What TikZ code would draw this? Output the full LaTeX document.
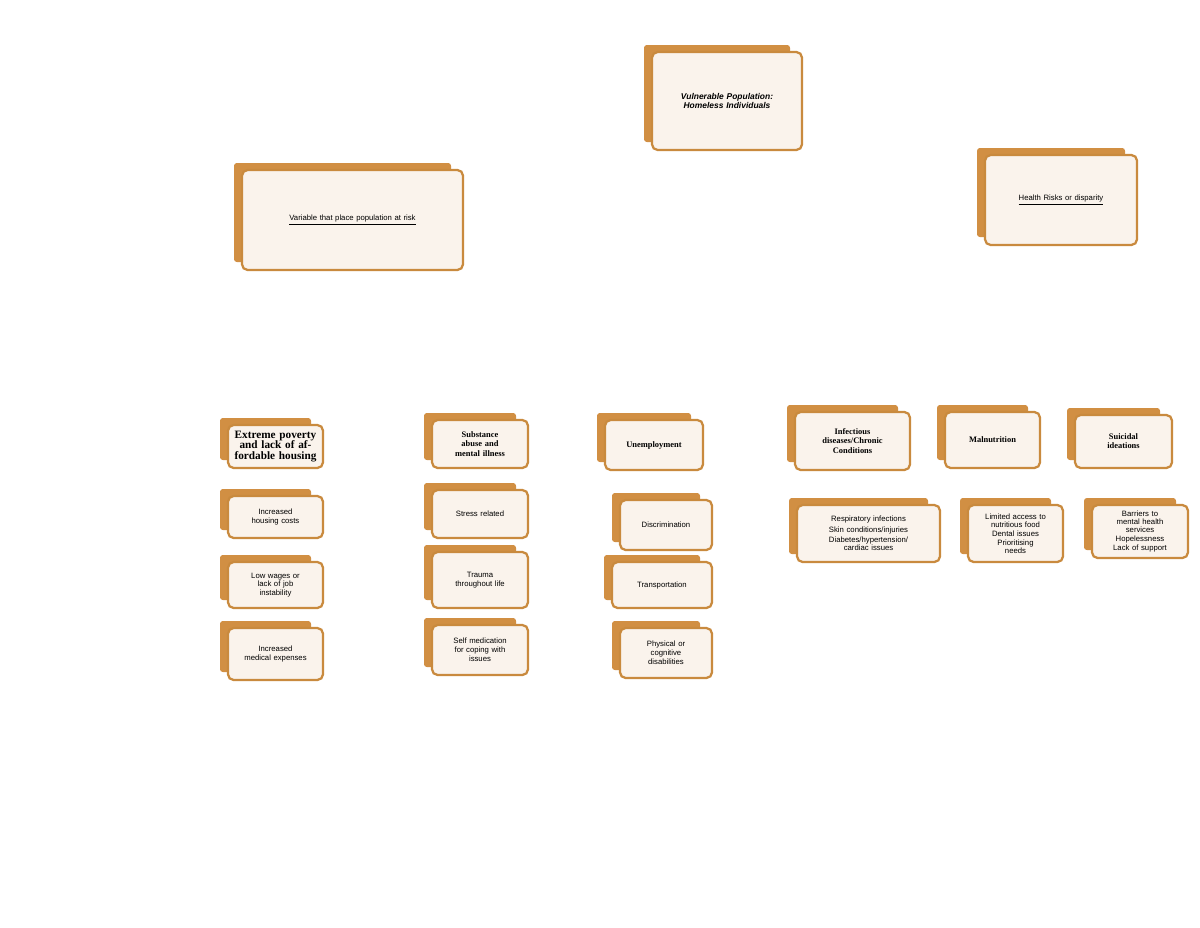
\documentclass[tikz,border=0pt]{standalone}
\usepackage{fontspec}
\setmainfont{Liberation Sans}
\newfontfamily\serifb{Liberation Serif}
\usetikzlibrary{fit,backgrounds}
\definecolor{org}{HTML}{C98A3E}
\definecolor{shd}{HTML}{D18F43}
\definecolor{crm}{HTML}{FAF3EC}
\tikzset{x=0.025cm,y=-0.025cm,
 front/.style={draw=org,line width=1.6pt,rounded corners=4pt,fill=crm,inner sep=0pt},
 conn/.style={draw=org,line width=1.6pt},
 txt/.style={align=center,font=\fontsize{5.5}{6.3}\selectfont,text width=#1},
 txt/.default=2.2cm}
\newcommand{\mybox}[6]{%
 \fill[shd,rounded corners=2pt] (#2-8,#3-7) rectangle (#4-12,#5-8);
 \node[front,fit={(#2,#3)(#4,#5)}] (#1) {};
 \node[txt=#6] at (#1.center) {\vphantom{}};}
\begin{document}
\begin{tikzpicture}
\fill[white] (0,0) rectangle (1200,927);
\mybox{top}{652}{52}{802}{150}{3cm}
\node[txt=3.5cm,font=\fontsize{6}{7}\selectfont\bfseries\itshape] at (top) {Vulnerable Population:\\Homeless Individuals};
\mybox{var}{242}{170}{463}{270}{5cm}
\node[txt=5cm] at (var) {\underline{Variable that place population at risk}};
\mybox{hr}{985}{155}{1137}{245}{3.5cm}
\node[txt=3.5cm] at (hr) {\underline{Health Risks or disparity}};
% left column
\mybox{ext}{228}{425}{323}{468}{2cm}
\node[txt=2.2cm,font=\serifb\fontsize{8}{7.5}\selectfont\bfseries] at (ext) {Extreme poverty and lack of affordable housing};
\mybox{ihc}{228}{496}{323}{538}{2cm}
\node[txt] at (ihc) {Increased\\housing costs};
\mybox{low}{228}{562}{323}{608}{2cm}
\node[txt] at (low) {Low wages or\\lack of job\\instability};
\mybox{ime}{228}{628}{323}{680}{2cm}
\node[txt] at (ime) {Increased\\medical expenses};
\mybox{sub}{432}{420}{528}{468}{2cm}
\node[txt,font=\serifb\fontsize{6}{6.5}\selectfont\bfseries] at (sub) {Substance\\abuse and\\mental illness};
\mybox{str}{432}{490}{528}{538}{2cm}
\node[txt] at (str) {Stress related};
\mybox{tra}{432}{552}{528}{608}{2cm}
\node[txt] at (tra) {Trauma\\throughout life};
\mybox{slf}{432}{625}{528}{675}{2cm}
\node[txt] at (slf) {Self medication\\for coping with\\issues};
\mybox{une}{605}{420}{703}{470}{2cm}
\node[txt,font=\serifb\fontsize{6}{6.5}\selectfont\bfseries] at (une) {Unemployment};
\mybox{dis}{620}{500}{712}{550}{2cm}
\node[txt] at (dis) {Discrimination};
\mybox{trn}{612}{562}{712}{608}{2cm}
\node[txt] at (trn) {Transportation};
\mybox{phy}{620}{628}{712}{678}{2cm}
\node[txt] at (phy) {Physical or\\cognitive\\disabilities};
% right
\mybox{inf}{795}{412}{910}{470}{2.5cm}
\node[txt=2.8cm,font=\serifb\fontsize{6}{6.5}\selectfont\bfseries] at (inf) {Infectious\\diseases/Chronic\\Conditions};
\mybox{mal}{945}{412}{1040}{468}{2cm}
\node[txt,font=\serifb\fontsize{6}{6.5}\selectfont\bfseries] at (mal) {Malnutrition};
\mybox{sui}{1075}{415}{1172}{468}{2cm}
\node[txt,font=\serifb\fontsize{6}{6.5}\selectfont\bfseries] at (sui) {Suicidal\\ideations};
\mybox{res}{797}{505}{940}{562}{3.3cm}
\node[txt=3.3cm,font=\fontsize{5.5}{7.5}\selectfont] at (res) {Respiratory infections\\Skin conditions/injuries\\Diabetes/hypertension/\\[-2pt]cardiac issues};
\mybox{lim}{968}{505}{1063}{562}{2.2cm}
\node[txt,font=\fontsize{5.5}{6.5}\selectfont] at (lim) {Limited access to\\[-1pt]nutritious food\\Dental issues\\Prioritising\\[-1pt]needs};
\mybox{bar}{1092}{505}{1188}{558}{2.2cm}
\node[txt,font=\fontsize{5.5}{6.5}\selectfont] at (bar) {Barriers to\\[-1pt]mental health\\[-1pt]services\\Hopelessness\\Lack of support};
\begin{pgfonlayer}{background}
\draw[conn] (top.south) -- ++(0,5) -| ([xshift=-10]var.north);
\draw[conn] ([yshift=-8]top.east) -| ([xshift=-10]hr.north);
\draw[conn] ([xshift=-10]var.south) -- ++(0,135) coordinate (lj);
\draw[conn] (lj) -| ([xshift=-8]ext.north);
\draw[conn] (lj) -| ([xshift=-5]sub.north);
\draw[conn] (lj) -| ([xshift=-7]une.north);
\draw[conn] ([xshift=-12]hr.south) -- ++(0,158) coordinate (rj);
\draw[conn] (rj) -| ([xshift=-10]inf.north);
\draw[conn] (rj) -| ([xshift=-8]mal.north);
\draw[conn] (rj) -| ([xshift=-10]sui.north);
\draw[conn] ([xshift=-8]ext.south) -- ([xshift=-8]ime.north);
\draw[conn] ([xshift=-5]sub.south) -- ([xshift=-5]slf.north);
\draw[conn] ([xshift=-7]une.south) -- ++(0,20) -| ([xshift=-10]phy.north);
\draw[conn] ([xshift=-5]inf.south) -- ++(0,25) -| ([xshift=-10]res.north);
\draw[conn] ([xshift=-10]mal.south) -- ++(0,25) -| ([xshift=-5]lim.north);
\draw[conn] ([xshift=-2]sui.south) -- ++(0,22) -| ([xshift=-10]bar.north);
\end{pgfonlayer}
\end{tikzpicture}
\end{document}
